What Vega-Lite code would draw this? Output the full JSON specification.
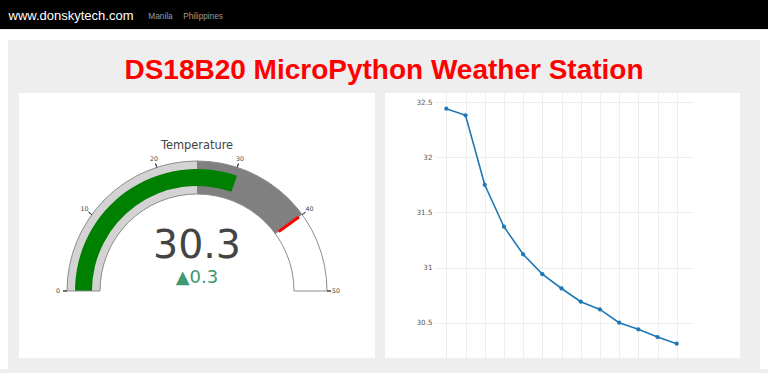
{
  "$schema": "https://vega.github.io/schema/vega-lite/v6.json",
  "padding": 0,
  "background": "#eeeeee",
  "spacing": 0,
  "config": {"view": {"stroke": null}, "concat": {"spacing": 0}},
  "datasets": {
    "gauge": [{"name": "Temperature", "value": 30.31, "reference": 30, "min": 0, "max": 50, "threshold": 40}],
    "steps": [{"from": 0, "to": 25, "band": "normal"}, {"from": 25, "to": 40, "band": "warm"}],
    "ticks": [{"tick": 0}, {"tick": 10}, {"tick": 20}, {"tick": 30}, {"tick": 40}, {"tick": 50}],
    "temps": [
      {"reading": 1, "temp": 32.44},
      {"reading": 2, "temp": 32.38},
      {"reading": 3, "temp": 31.75},
      {"reading": 4, "temp": 31.37},
      {"reading": 5, "temp": 31.12},
      {"reading": 6, "temp": 30.94},
      {"reading": 7, "temp": 30.81},
      {"reading": 8, "temp": 30.69},
      {"reading": 9, "temp": 30.62},
      {"reading": 10, "temp": 30.5},
      {"reading": 11, "temp": 30.44},
      {"reading": 12, "temp": 30.37},
      {"reading": 13, "temp": 30.31}
    ]
  },
  "vconcat": [
    {
      "spacing": 0,
      "hconcat": [
        {"width": 8, "height": 29, "view": {"fill": "#000000"}, "data": {"values": [{}]}, "mark": {"type": "text", "text": ""}},
        {"width": 126, "height": 29, "view": {"fill": "#000000"}, "data": {"values": [{"label": "www.donskytech.com"}]},
         "mark": {"type": "text", "font": "Liberation Sans", "fontSize": 13, "color": "#ffffff", "baseline": "alphabetic", "dy": 5},
         "encoding": {"text": {"field": "label"}}},
        {"width": 14, "height": 29, "view": {"fill": "#000000"}, "data": {"values": [{}]}, "mark": {"type": "text", "text": ""}},
        {"width": 25, "height": 29, "view": {"fill": "#000000"}, "data": {"values": [{"label": "Manila"}]},
         "mark": {"type": "text", "font": "Liberation Sans", "fontSize": 8.3, "color": "#9d9d9d", "baseline": "alphabetic", "dy": 4},
         "encoding": {"text": {"field": "label"}}},
        {"width": 10, "height": 29, "view": {"fill": "#000000"}, "data": {"values": [{}]}, "mark": {"type": "text", "text": ""}},
        {"width": 40, "height": 29, "view": {"fill": "#000000"}, "data": {"values": [{"label": "Philippines"}]},
         "mark": {"type": "text", "font": "Liberation Sans", "fontSize": 8.2, "color": "#9d9d9d", "baseline": "alphabetic", "dy": 4},
         "encoding": {"text": {"field": "label"}}},
        {"width": 545, "height": 29, "view": {"fill": "#000000"}, "data": {"values": [{}]}, "mark": {"type": "text", "text": ""}}
      ]
    },
    {"width": 768, "height": 10, "view": {"fill": "#ffffff"}, "data": {"values": [{}]}, "mark": {"type": "text", "text": ""}},
    {
      "spacing": 0,
      "hconcat": [
        {"width": 8, "height": 329, "view": {"fill": "#ffffff"}, "data": {"values": [{}]}, "mark": {"type": "text", "text": ""}},
        {
          "spacing": 0,
          "vconcat": [
            {"width": 752, "height": 53, "data": {"values": [{"heading": "DS18B20 MicroPython Weather Station"}]},
             "mark": {"type": "text", "font": "Liberation Sans", "fontSize": 28, "fontWeight": "bold", "color": "#ff0000", "baseline": "alphabetic", "dy": 12.8},
             "encoding": {"text": {"field": "heading"}}},
            {
              "spacing": 0,
              "bounds": "flush",
              "hconcat": [
                {"width": 11, "height": 265, "data": {"values": [{}]}, "mark": {"type": "text", "text": ""}},
                {
                  "width": 356, "height": 265, "view": {"fill": "#ffffff"},
                  "layer": [
                    {"data": {"name": "gauge"},
                     "mark": {"type": "arc", "outerRadius": 130, "innerRadius": 97, "fill": "#ffffff"},
                     "encoding": {
                       "theta": {"field": "min", "type": "quantitative", "stack": false, "scale": {"domain": [0, 50], "range": [-1.5708, 1.5708]}},
                       "theta2": {"field": "max"},
                       "y": {"datum": 0, "type": "quantitative", "scale": {"domain": [-0.5154, 1.5231], "nice": false, "zero": false}, "axis": null}}},
                    {"data": {"name": "steps"},
                     "mark": {"type": "arc", "outerRadius": 130, "innerRadius": 97},
                     "encoding": {
                       "theta": {"field": "from", "type": "quantitative", "stack": false, "scale": {"domain": [0, 50], "range": [-1.5708, 1.5708]}},
                       "theta2": {"field": "to"},
                       "color": {"field": "band", "type": "nominal", "scale": {"domain": ["normal", "warm"], "range": ["#d3d3d3", "#808080"]}, "legend": null},
                       "y": {"datum": 0, "type": "quantitative", "scale": {"domain": [-0.5154, 1.5231], "nice": false, "zero": false}, "axis": null}}},
                    {"data": {"name": "gauge"},
                     "mark": {"type": "arc", "outerRadius": 122, "innerRadius": 105, "fill": "#008000"},
                     "encoding": {
                       "theta": {"field": "min", "type": "quantitative", "stack": false, "scale": {"domain": [0, 50], "range": [-1.5708, 1.5708]}},
                       "theta2": {"field": "value"},
                       "y": {"datum": 0, "type": "quantitative", "scale": {"domain": [-0.5154, 1.5231], "nice": false, "zero": false}, "axis": null}}},
                    {"data": {"name": "gauge"},
                     "mark": {"type": "arc", "outerRadius": 130, "innerRadius": 97, "filled": false, "stroke": "#8c8c8c", "strokeWidth": 1},
                     "encoding": {
                       "theta": {"field": "min", "type": "quantitative", "stack": false, "scale": {"domain": [0, 50], "range": [-1.5708, 1.5708]}},
                       "theta2": {"field": "max"},
                       "y": {"datum": 0, "type": "quantitative", "scale": {"domain": [-0.5154, 1.5231], "nice": false, "zero": false}, "axis": null}}},
                    {"data": {"name": "gauge"},
                     "mark": {"type": "arc", "outerRadius": 126, "innerRadius": 101, "filled": false, "stroke": "#ff0000", "strokeWidth": 3},
                     "encoding": {
                       "theta": {"field": "threshold", "type": "quantitative", "stack": false, "scale": {"domain": [0, 50], "range": [-1.5708, 1.5708]}},
                       "theta2": {"field": "threshold"},
                       "y": {"datum": 0, "type": "quantitative", "scale": {"domain": [-0.5154, 1.5231], "nice": false, "zero": false}, "axis": null}}},
                    {"data": {"name": "ticks"},
                     "mark": {"type": "arc", "outerRadius": 134, "innerRadius": 130, "filled": false, "stroke": "#444444", "strokeWidth": 1},
                     "encoding": {
                       "theta": {"field": "tick", "type": "quantitative", "stack": false, "scale": {"domain": [0, 50], "range": [-1.5708, 1.5708]}},
                       "theta2": {"field": "tick"},
                       "y": {"datum": 0, "type": "quantitative", "scale": {"domain": [-0.5154, 1.5231], "nice": false, "zero": false}, "axis": null}}},
                    {"data": {"name": "ticks"},
                     "mark": {"type": "text", "radius": 139, "font": "DejaVu Sans", "fontSize": 6.3, "color": "#444444", "align": "center", "baseline": "middle"},
                     "encoding": {
                       "theta": {"field": "tick", "type": "quantitative", "stack": false, "scale": {"domain": [0, 50], "range": [-1.5708, 1.5708]}},
                       "text": {"field": "tick", "type": "quantitative"},
                       "y": {"datum": 0, "type": "quantitative", "scale": {"domain": [-0.5154, 1.5231], "nice": false, "zero": false}, "axis": null}}},
                    {"data": {"name": "gauge"},
                     "mark": {"type": "text", "font": "DejaVu Sans", "fontSize": 11.4, "color": "#444444", "align": "center", "baseline": "alphabetic"},
                     "encoding": {
                       "text": {"field": "name"},
                       "y": {"datum": 1.09, "type": "quantitative", "scale": {"domain": [-0.5154, 1.5231], "nice": false, "zero": false}, "axis": null}}},
                    {"data": {"name": "gauge"},
                     "mark": {"type": "text", "font": "DejaVu Sans", "fontSize": 39.5, "color": "#444444", "align": "center", "baseline": "alphabetic"},
                     "encoding": {
                       "text": {"field": "value", "type": "quantitative", "format": ".1f"},
                       "y": {"datum": 0.2516, "type": "quantitative", "scale": {"domain": [-0.5154, 1.5231], "nice": false, "zero": false}, "axis": null}}},
                    {"data": {"name": "gauge"},
                     "transform": [{"calculate": "'▲' + format(datum.value - datum.reference, '.1f')", "as": "deltaLabel"}],
                     "mark": {"type": "text", "font": "DejaVu Sans", "fontSize": 18, "color": "#3d9970", "align": "center", "baseline": "alphabetic"},
                     "encoding": {
                       "text": {"field": "deltaLabel"},
                       "y": {"datum": 0.0639, "type": "quantitative", "scale": {"domain": [-0.5154, 1.5231], "nice": false, "zero": false}, "axis": null}}}
                  ]
                },
                {"width": 10, "height": 265, "data": {"values": [{}]}, "mark": {"type": "text", "text": ""}},
                {"width": 50, "height": 265, "view": {"fill": "#ffffff"}, "data": {"values": [{}]}, "mark": {"type": "text", "text": ""}},
                {
                  "width": 259, "height": 265, "view": {"fill": "#ffffff"},
                  "data": {"name": "temps"},
                  "mark": {"type": "line", "color": "#1f77b4", "strokeWidth": 1.6, "point": {"filled": true, "size": 18, "color": "#1f77b4"}},
                  "encoding": {
                    "x": {"field": "reading", "type": "quantitative",
                          "scale": {"domain": [0.41, 13.9], "nice": false, "zero": false},
                          "axis": {"values": [1, 2, 3, 4, 5, 6, 7, 8, 9, 10, 11, 12, 13], "labels": false, "ticks": false, "domain": false, "grid": true, "gridColor": "#eeeeee", "title": null}},
                    "y": {"field": "temp", "type": "quantitative",
                          "scale": {"domain": [30.18, 32.582], "nice": false, "zero": false},
                          "axis": {"values": [30.5, 31, 31.5, 32, 32.5], "format": "~g", "labelFont": "DejaVu Sans", "labelFontSize": 7.2, "labelColor": "#555555", "ticks": false, "domain": false, "grid": true, "gridColor": "#eeeeee", "title": null, "labelPadding": 3}}
                  }
                },
                {"width": 46, "height": 265, "view": {"fill": "#ffffff"}, "data": {"values": [{}]}, "mark": {"type": "text", "text": ""}},
                {"width": 20, "height": 265, "data": {"values": [{}]}, "mark": {"type": "text", "text": ""}}
              ]
            },
            {"width": 752, "height": 11, "data": {"values": [{}]}, "mark": {"type": "text", "text": ""}}
          ]
        },
        {"width": 8, "height": 329, "view": {"fill": "#ffffff"}, "data": {"values": [{}]}, "mark": {"type": "text", "text": ""}}
      ]
    },
    {"width": 768, "height": 7, "view": {"fill": "#ffffff"}, "data": {"values": [{}]}, "mark": {"type": "text", "text": ""}}
  ]
}
